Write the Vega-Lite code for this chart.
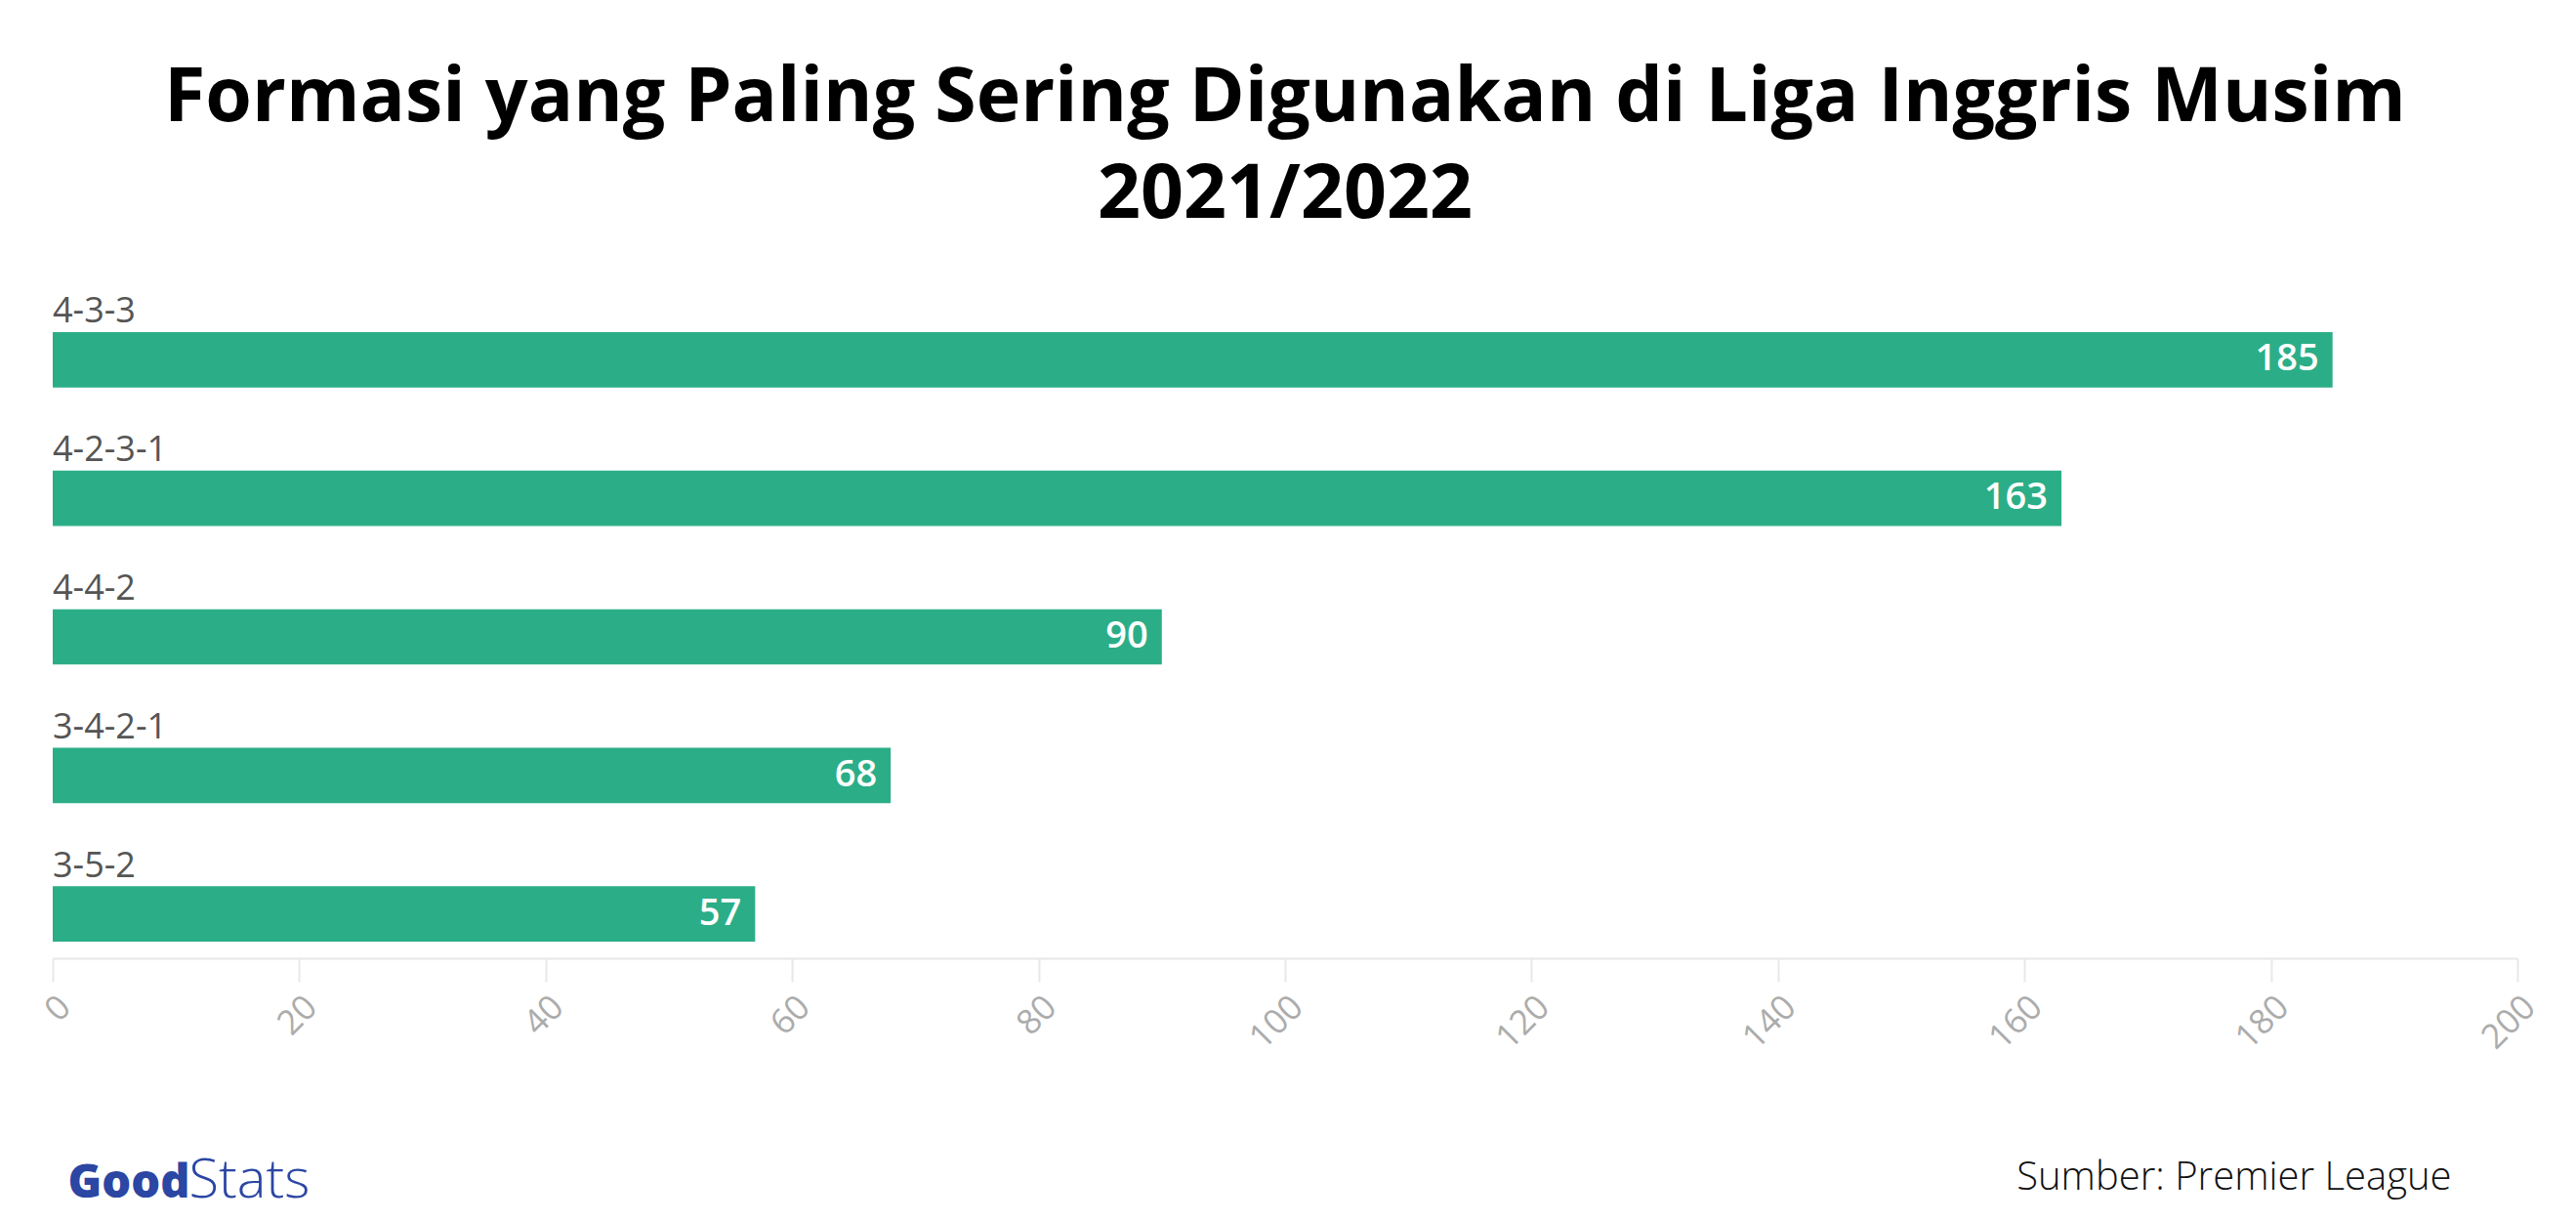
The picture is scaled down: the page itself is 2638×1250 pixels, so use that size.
{
  "$schema": "https://vega.github.io/schema/vega-lite/v6.json",
  "width": 2524,
  "height": 658,
  "autosize": {"type": "none"},
  "padding": {"left": 54, "top": 323, "right": 60, "bottom": 269},
  "background": "white",
  "title": {
    "text": ["Formasi yang Paling Sering Digunakan di Liga Inggris Musim", "2021/2022"],
    "font": "Open Sans",
    "fontWeight": 700,
    "fontSize": 77,
    "lineHeight": 99,
    "color": "#000000",
    "anchor": "middle",
    "offset": 62
  },
  "data": {
    "values": [
      {"formasi": "4-3-3", "jumlah": 185},
      {"formasi": "4-2-3-1", "jumlah": 163},
      {"formasi": "4-4-2", "jumlah": 90},
      {"formasi": "3-4-2-1", "jumlah": 68},
      {"formasi": "3-5-2", "jumlah": 57}
    ]
  },
  "config": {"view": {"stroke": null}},
  "layer": [
    {
      "mark": {"type": "bar", "color": "#2bae87"},
      "encoding": {
        "y": {
          "field": "formasi", "type": "nominal", "sort": null,
          "scale": {"paddingInner": 0.6, "paddingOuter": 0.12},
          "axis": {
            "orient": "left", "labels": false, "ticks": false, "domain": false, "grid": false,
            "title": "Good", "titleAngle": 0, "titleX": 15, "titleY": 902,
            "titleAlign": "left", "titleBaseline": "alphabetic",
            "titleFont": "Open Sans", "titleFontWeight": 800, "titleFontSize": 47, "titleColor": "#2b46a3"
          }
        },
        "x": {
          "field": "jumlah", "type": "quantitative",
          "scale": {"domain": [0, 200], "nice": false},
          "axis": {
            "values": [0, 20, 40, 60, 80, 100, 120, 140, 160, 180, 200],
            "grid": false,
            "labelAngle": -45, "labelAlign": "right", "labelBaseline": "top",
            "labelFont": "Open Sans", "labelFontSize": 35, "labelColor": "#acacac", "labelPadding": 8,
            "tickSize": 24, "tickColor": "#e8e8e8", "tickWidth": 2,
            "domainColor": "#e8e8e8", "domainWidth": 2,
            "title": "Sumber: Premier League", "titleX": 2456, "titleY": 236,
            "titleAlign": "right", "titleBaseline": "alphabetic", "titleAnchor": null,
            "titleFont": "Open Sans", "titleFontWeight": 300, "titleFontSize": 40, "titleColor": "#111111"
          }
        }
      }
    },
    {
      "mark": {"type": "text", "align": "right", "baseline": "middle", "dx": -14, "font": "Open Sans", "fontWeight": 600, "fontSize": 38, "color": "white"},
      "encoding": {
        "y": {
          "field": "formasi", "type": "nominal", "sort": null,
          "axis": {
            "orient": "right", "labels": false, "ticks": false, "domain": false, "grid": false,
            "title": "Stats", "titleAngle": 0, "titleX": -2385, "titleY": 902,
            "titleAlign": "left", "titleBaseline": "alphabetic",
            "titleFont": "Open Sans", "titleFontWeight": 300, "titleFontSize": 56, "titleColor": "#2b46a3"
          }
        },
        "x": {"field": "jumlah", "type": "quantitative"},
        "text": {"field": "jumlah", "type": "quantitative"}
      }
    },
    {
      "mark": {"type": "text", "align": "left", "baseline": "alphabetic", "dy": -38, "font": "Open Sans", "fontSize": 36, "color": "#555555"},
      "encoding": {
        "y": {"field": "formasi", "type": "nominal", "sort": null, "axis": null},
        "x": {"datum": 0, "type": "quantitative"},
        "text": {"field": "formasi", "type": "nominal"}
      }
    }
  ],
  "resolve": {"axis": {"y": "independent"}}
}
